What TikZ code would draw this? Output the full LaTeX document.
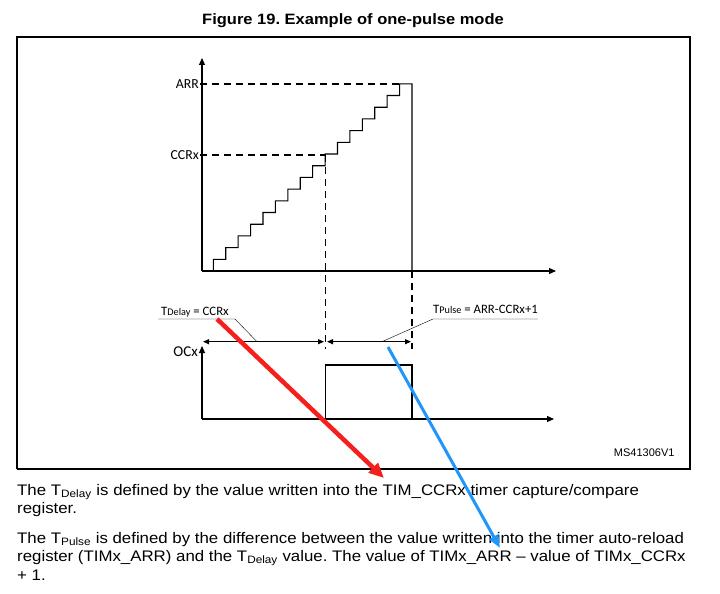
\documentclass[tikz,border=0pt]{standalone}
\usepackage{fontspec}
\setmainfont{Liberation Sans}
\newfontfamily\bodyfont[FakeStretch=1.1, Ligatures=TeX]{Liberation Sans}
\newfontfamily\chartfont{Carlito}
\usetikzlibrary{arrows.meta}
\definecolor{hintred}{RGB}{245,32,28}
\definecolor{hintblue}{RGB}{32,150,250}
\tikzset{
  axis/.style={line width=1.1pt, -{Triangle[length=7pt,width=6pt]}},
  level/.style={line width=1.1pt, dash pattern=on 7pt off 5pt},
  span/.style={line width=1.1pt, {Triangle[length=6pt,width=5pt]}-{Triangle[length=6pt,width=5pt]}},
  lbl/.style={font=\chartfont\fontsize{13.8}{15}\selectfont, inner sep=1pt},
  tlbl/.style={font=\chartfont\fontsize{12.8}{14}\selectfont, inner sep=0pt, anchor=base west},
  body/.style={anchor=base west, inner sep=0pt, font=\bodyfont\fontsize{15.3}{17}\selectfont}
}
\begin{document}
\frenchspacing
\begin{tikzpicture}[x=1pt, y=-1pt]
    \useasboundingbox (0,0) rectangle (720,594);
    % Title and frame
    \node[font=\bodyfont\bfseries\fontsize{15}{16}\selectfont] (title) at (353,21) {Figure 19. Example of one-pulse mode};
    \draw[line width=1.1pt] (17,469) -- (17,37) -- (690,37) -- (690,469) -- (17,469);
    \node[font=\fontsize{11}{12}\selectfont, anchor=east] (ref) at (678,453) {MS41306V1};

    % Counter (Top)
    \coordinate (o1) at (202,271);
    \coordinate (y1) at (202,58);
    \coordinate (x1) at (556,271);
    \draw[axis] (o1) -- (y1);
    \draw[axis] (o1) -- (x1);
    \node[lbl, anchor=east] (arr) at (200,84) {ARR};
    \node[lbl, anchor=east] (ccr) at (200,155) {CCRx};
    \draw[line width=1.1pt] (o1) -- (213.3,271)
        \foreach \i in {0,...,15} { -- ++(0,-11.7) -- ++(12.42,0) } -- (412,271);
    \draw[level] (arr.east) -- (400,84);
    \draw[level] (ccr.east) -- (325.5,155);
    \draw[level] (325.5,155) -- (325.5,349);
    \draw[level] (412,271) -- (412,349);

    % Output (Bottom)
    \coordinate (o2) at (202,419);
    \coordinate (y2) at (202,346);
    \coordinate (x2) at (554,419);
    \draw[axis] (o2) -- (y2);
    \draw[axis] (o2) -- (x2);
    \node[lbl, font=\chartfont\fontsize{15}{16}\selectfont, anchor=east] (ocx) at (199,352) {OCx};
    \draw[line width=1.1pt] (325.5,419) -- (325.5,365) -- (412,365) -- (412,419);

    % Delay and pulse spans
    \coordinate (d1) at (203,341.7);
    \coordinate (d2) at (324,341.7);
    \coordinate (p1) at (327,341.7);
    \coordinate (p2) at (411,341.7);
    \draw[span] (d1) -- (d2);
    \draw[span] (p1) -- (p2);
    \node[tlbl] (tdelay) at (161,315)
        {T{\fontsize{10.2}{12}\selectfont Delay} = CCRx};
    \node[tlbl] (tpulse) at (433,313)
        {T{\fontsize{10.2}{12}\selectfont Pulse} = ARR-CCRx+1};
    \coordinate (dk) at (235,319);
    \coordinate (pk) at (433,319);
    \draw (158,319) -- (dk) -- (257,341.7);
    \draw (538,319) -- (pk) -- (382,341.7);

    % Text below
    \node[body] (line1) at (17,495) {The T\textsubscript{Delay} is defined by the value written into the TIM\_CCRx timer capture/compare};
    \node[body] (line2) at (17,513) {register.};
    \node[body] (line3) at (17,543) {The T\textsubscript{Pulse} is defined by the difference between the value written into the timer auto-reload};
    \node[body] (line4) at (17,561) {register (TIMx\_ARR) and the T\textsubscript{Delay} value. The value of TIMx\_ARR – value of TIMx\_CCRx};
    \node[body] (line5) at (17,580) {+ 1.};

    % Hint arrows
    \coordinate (rs) at (217,319);
    \coordinate (re) at (384,478);
    \coordinate (bs) at (388,347);
    \coordinate (be) at (500,548);
    \draw[hintred, line width=4.5pt, -{Triangle[length=15pt,width=13pt]}] (rs) -- (re);
    \draw[hintblue, line width=3pt, -{Triangle[length=13pt,width=10pt]}] (bs) -- (be);
\end{tikzpicture}
\end{document}
